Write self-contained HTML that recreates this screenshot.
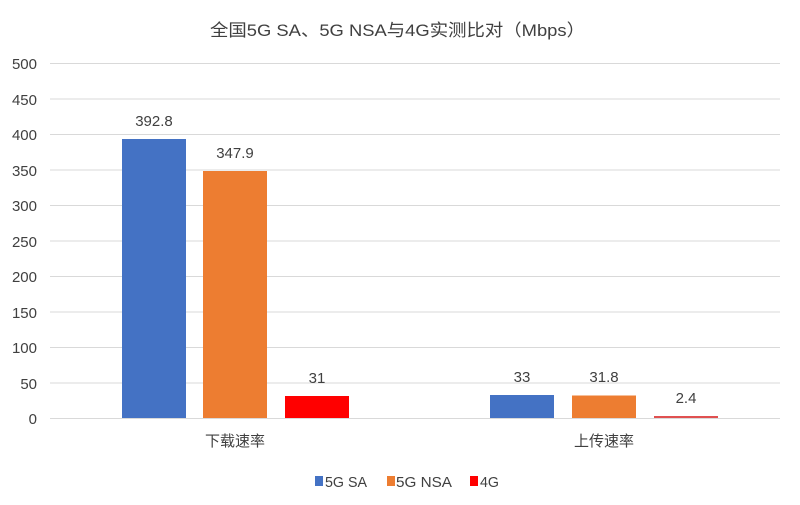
<!DOCTYPE html>
<html><head><meta charset="utf-8"><style>
body{margin:0;background:#fff}
text{font-family:"Liberation Sans","Noto Sans CJK SC",sans-serif;fill:#404040}
</style></head><body>
<svg width="800" height="500" xmlns="http://www.w3.org/2000/svg">
<rect width="800" height="500" fill="#fff"/>
<text x="210" y="36" font-size="17" textLength="375" lengthAdjust="spacingAndGlyphs">全国5G SA、5G NSA与4G实测比对（Mbps）</text>
<g stroke="#d9d9d9" stroke-width="1">
<line x1="50" x2="780" y1="63.5" y2="63.5"/>
<line x1="50" x2="780" y1="99" y2="99"/>
<line x1="50" x2="780" y1="134.5" y2="134.5"/>
<line x1="50" x2="780" y1="170" y2="170"/>
<line x1="50" x2="780" y1="205.5" y2="205.5"/>
<line x1="50" x2="780" y1="241" y2="241"/>
<line x1="50" x2="780" y1="276.5" y2="276.5"/>
<line x1="50" x2="780" y1="312" y2="312"/>
<line x1="50" x2="780" y1="347.5" y2="347.5"/>
<line x1="50" x2="780" y1="383" y2="383"/>
<line x1="50" x2="780" y1="418.5" y2="418.5"/>
</g>
<g font-size="15" text-anchor="end">
<text x="37" y="69">500</text><text x="37" y="105">450</text><text x="37" y="140">400</text>
<text x="37" y="176">350</text><text x="37" y="211">300</text><text x="37" y="247">250</text>
<text x="37" y="282">200</text><text x="37" y="318">150</text><text x="37" y="353">100</text>
<text x="37" y="389">50</text><text x="37" y="424">0</text>
</g>
<rect x="122" y="139" width="64" height="279" fill="#4472c4"/>
<rect x="203" y="171" width="64" height="247" fill="#ed7d31"/>
<rect x="285" y="396" width="64" height="22" fill="#ff0000"/>
<rect x="490" y="395" width="64" height="23" fill="#4472c4"/>
<rect x="572" y="395.5" width="64" height="22.5" fill="#ed7d31"/>
<rect x="654" y="416" width="64" height="2" fill="#e05050"/>
<g font-size="15" text-anchor="middle">
<text x="154" y="126">392.8</text>
<text x="235" y="158">347.9</text>
<text x="317" y="383">31</text>
<text x="522" y="382">33</text>
<text x="604" y="382">31.8</text>
<text x="686" y="403">2.4</text>
<text x="235" y="446">下载速率</text>
<text x="604" y="446">上传速率</text>
</g>
<rect x="315" y="476" width="8" height="10" fill="#4472c4"/>
<text x="325" y="487" font-size="15" textLength="42" lengthAdjust="spacingAndGlyphs">5G SA</text>
<rect x="387" y="476" width="8" height="10" fill="#ed7d31"/>
<text x="396" y="487" font-size="15" textLength="56" lengthAdjust="spacingAndGlyphs">5G NSA</text>
<rect x="470" y="476" width="8" height="10" fill="#ff0000"/>
<text x="480" y="487" font-size="15" textLength="19" lengthAdjust="spacingAndGlyphs">4G</text>
</svg>
</body></html>
